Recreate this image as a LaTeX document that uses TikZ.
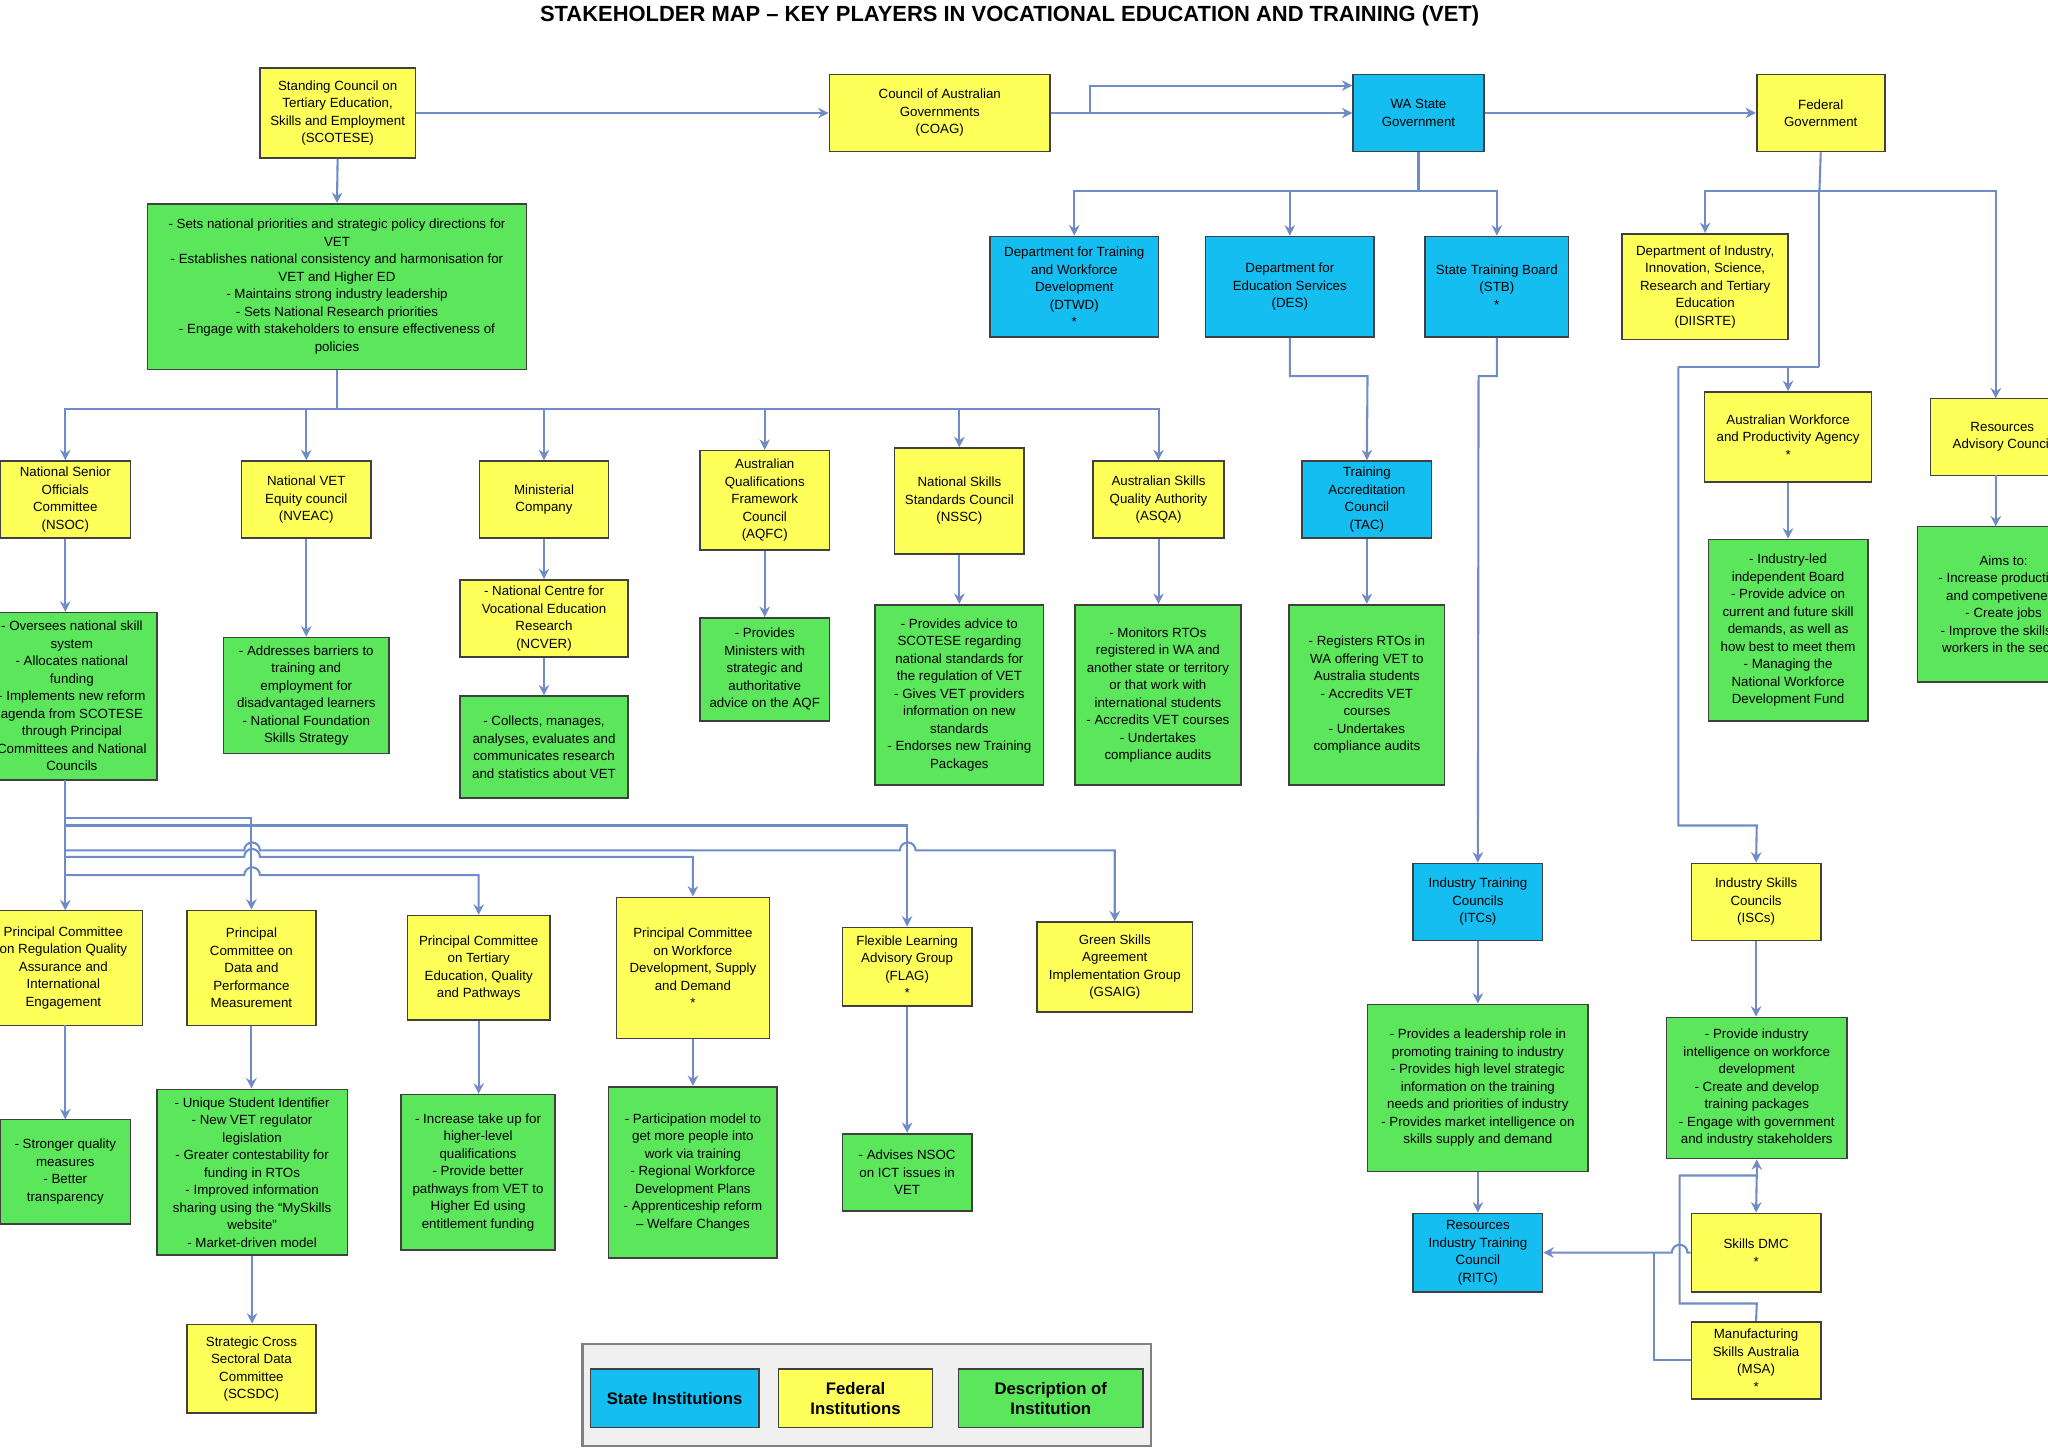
\documentclass[tikz,border=0pt]{standalone}
\usepackage{fontspec}
\setmainfont{Liberation Sans}
\usetikzlibrary{arrows.meta}
\definecolor{yb}{HTML}{FFFF5A}
\definecolor{bb}{HTML}{14BEF0}
\definecolor{gb}{HTML}{5CE65C}
\definecolor{ln}{HTML}{6F8CC8}
\newcommand\fs{\fontsize{5.1}{6.7}\selectfont}
\tikzset{
 bxs/.style={draw=black!75,line width=0.6pt,align=center,inner sep=1pt,font=\fs},
 Y/.style={bxs,fill=yb},B/.style={bxs,fill=bb},G/.style={bxs,fill=gb},
 con/.style={draw=ln,line width=0.8pt,-{Stealth[length=4pt,width=4pt]}},
 lin/.style={draw=ln,line width=0.8pt}
}
\newcommand\bx[7]{%
 \pgfmathsetmacro\bw{(#5-#3)*0.5}\pgfmathsetmacro\bh{(#6-#4)*0.5}%
 \pgfmathsetmacro\cx{(#3+#5)/2}\pgfmathsetmacro\cy{(#4+#6)/2}%
 \node[#2,minimum width=\bw pt,minimum height=\bh pt] (#1) at (\cx,\cy) {#7};}
\begin{document}
\begin{tikzpicture}[x=0.5pt,y=-0.5pt]
\useasboundingbox (0,0) rectangle (1568,1110);
\node[font=\bfseries\fontsize{8.4}{10}\selectfont] (title) at (773,12) {STAKEHOLDER MAP – KEY PLAYERS IN VOCATIONAL EDUCATION AND TRAINING (VET)};
% top
\bx{scotese}{Y}{199}{52}{318}{121}{Standing Council on\\Tertiary Education,\\Skills and Employment\\(SCOTESE)}
\bx{coag}{Y}{635}{57}{804}{116}{Council of Australian\\Governments\\(COAG)}
\bx{wa}{B}{1036}{57}{1136}{116}{WA State\\Government}
\bx{fed}{Y}{1345}{57}{1443}{116}{Federal\\Government}
\bx{scotdesc}{G}{113}{156}{403}{283}{- Sets national priorities and strategic policy directions for\\VET\\- Establishes national consistency and harmonisation for\\VET and Higher ED\\- Maintains strong industry leadership\\- Sets National Research priorities\\- Engage with stakeholders to ensure effectiveness of\\policies}
\bx{dtwd}{B}{758}{181}{887}{258}{Department for Training\\and Workforce\\Development\\(DTWD)\\*}
\bx{des}{B}{923}{181}{1052}{258}{Department for\\Education Services\\(DES)}
\bx{stb}{B}{1091}{181}{1201}{258}{State Training Board\\(STB)\\*}
\bx{diisrte}{Y}{1242}{179}{1369}{260}{Department of Industry,\\Innovation, Science,\\Research and Tertiary\\Education\\(DIISRTE)}
% row 2
\bx{nsoc}{Y}{0}{353}{100}{412}{National Senior\\Officials\\Committee\\(NSOC)}
\bx{nveac}{Y}{185}{353}{284}{412}{National VET\\Equity council\\(NVEAC)}
\bx{mincomp}{Y}{367}{353}{466}{412}{Ministerial\\Company}
\bx{aqfc}{Y}{536}{345}{635}{421}{Australian\\Qualifications\\Framework\\Council\\(AQFC)}
\bx{nssc}{Y}{685}{343}{784}{424}{National Skills\\Standards Council\\(NSSC)}
\bx{asqa}{Y}{837}{353}{937}{412}{Australian Skills\\Quality Authority\\(ASQA)}
\bx{tac}{B}{997}{353}{1096}{412}{Training\\Accreditation\\Council\\(TAC)}
\bx{awpa}{Y}{1305}{300}{1433}{369}{Australian Workforce\\and Productivity Agency\\*}
\bx{rac}{Y}{1478}{305}{1588}{364}{Resources\\Advisory Council}
% row 3
\bx{nsocdesc}{G}{-10}{469}{120}{597}{- Oversees national skill\\system\\- Allocates national\\funding\\- Implements new reform\\agenda from SCOTESE\\through Principal\\Committees and National\\Councils}
\bx{nveacdesc}{G}{171}{488}{298}{577}{- Addresses barriers to\\training and\\employment for\\disadvantaged learners\\- National Foundation\\Skills Strategy}
\bx{ncver}{Y}{352}{444}{481}{503}{- National Centre for\\Vocational Education\\Research\\(NCVER)}
\bx{ncverdesc}{G}{352}{533}{481}{611}{- Collects, manages,\\analyses, evaluates and\\communicates research\\and statistics about VET}
\bx{aqfcdesc}{G}{536}{473}{635}{552}{- Provides\\Ministers with\\strategic and\\authoritative\\advice on the AQF}
\bx{nsscdesc}{G}{670}{463}{799}{601}{- Provides advice to\\SCOTESE regarding\\national standards for\\the regulation of VET\\- Gives VET providers\\information on new\\standards\\- Endorses new Training\\Packages}
\bx{asqadesc}{G}{823}{463}{950}{601}{- Monitors RTOs\\registered in WA and\\another state or territory\\or that work with\\international students\\- Accredits VET courses\\- Undertakes\\compliance audits}
\bx{tacdesc}{G}{987}{463}{1106}{601}{- Registers RTOs in\\WA offering VET to\\Australia students\\- Accredits VET\\courses\\- Undertakes\\compliance audits}
\bx{awpadesc}{G}{1308}{413}{1430}{552}{- Industry-led\\independent Board\\- Provide advice on\\current and future skill\\demands, as well as\\how best to meet them\\- Managing the\\National Workforce\\Development Fund}
\bx{racdesc}{G}{1468}{403}{1600}{522}{Aims to:\\- Increase productivity\\and competiveness\\- Create jobs\\- Improve the skills of\\workers in the sector}
% row 4
\bx{pcreg}{Y}{-12}{697}{109}{785}{Principal Committee\\on Regulation Quality\\Assurance and\\International\\Engagement}
\bx{pcdata}{Y}{143}{697}{242}{785}{Principal\\Committee on\\Data and\\Performance\\Measurement}
\bx{pcter}{Y}{312}{701}{421}{781}{Principal Committee\\on Tertiary\\Education, Quality\\and Pathways}
\bx{pcwf}{Y}{472}{687}{589}{795}{Principal Committee\\on Workforce\\Development, Supply\\and Demand\\*}
\bx{flag}{Y}{645}{710}{744}{770}{Flexible Learning\\Advisory Group\\(FLAG)\\*}
\bx{gsaig}{Y}{794}{706}{913}{775}{Green Skills\\Agreement\\Implementation Group\\(GSAIG)}
\bx{itc}{B}{1082}{661}{1181}{720}{Industry Training\\Councils\\(ITCs)}
\bx{isc}{Y}{1295}{661}{1394}{720}{Industry Skills\\Councils\\(ISCs)}
% row 5
\bx{pcregdesc}{G}{0}{857}{100}{937}{- Stronger quality\\measures\\- Better\\transparency}
\bx{pcdatadesc}{G}{120}{834}{266}{961}{- Unique Student Identifier\\- New VET regulator\\legislation\\- Greater contestability for\\funding in RTOs\\- Improved information\\sharing using the “MySkills\\website”\\- Market-driven model}
\bx{pcterdesc}{G}{307}{838}{425}{957}{- Increase take up for\\higher-level\\qualifications\\- Provide better\\pathways from VET to\\Higher Ed using\\entitlement funding}
\bx{pcwfdesc}{G}{466}{832}{595}{963}{- Participation model to\\get more people into\\work via training\\- Regional Workforce\\Development Plans\\- Apprenticeship reform\\– Welfare Changes}
\bx{flagdesc}{G}{645}{868}{744}{927}{- Advises NSOC\\on ICT issues in\\VET}
\bx{itcdesc}{G}{1047}{769}{1216}{897}{- Provides a leadership role in\\promoting training to industry\\- Provides high level strategic\\information on the training\\needs and priorities of industry\\- Provides market intelligence on\\skills supply and demand}
\bx{iscdesc}{G}{1276}{779}{1414}{887}{- Provide industry\\intelligence on workforce\\development\\- Create and develop\\training packages\\- Engage with government\\and industry stakeholders}
\bx{scsdc}{Y}{143}{1014}{242}{1082}{Strategic Cross\\Sectoral Data\\Committee\\(SCSDC)}
\bx{ritc}{B}{1082}{929}{1181}{989}{Resources\\Industry Training\\Council\\(RITC)}
\bx{sdmc}{Y}{1295}{929}{1394}{989}{Skills DMC\\*}
\bx{msa}{Y}{1295}{1012}{1394}{1071}{Manufacturing\\Skills Australia\\(MSA)\\*}
% legend
\node[draw=black!50,line width=0.8pt,fill=black!6,minimum width=217.5pt,minimum height=39pt] (legend) at (663.5,1068) {};
\tikzset{lg/.style={font=\bfseries\fontsize{6.4}{7.8}\selectfont}}
\bx{lgs}{B,lg}{452}{1048}{581}{1093}{State Institutions}
\bx{lgf}{Y,lg}{596}{1048}{714}{1093}{Federal\\Institutions}
\bx{lgd}{G,lg}{734}{1048}{875}{1093}{Description of\\Institution}
% connectors top
\draw[con] (scotese.east) -- (coag.west);
\draw[con] (coag.east) -- (wa.west);
\draw[con] (coag.east) ++(30,0) |- ([yshift=10.5pt]wa.west);
\draw[con] (wa.east) -- (fed.west);
\draw[con] (scotese.south) -- (scotdesc.north);
\coordinate (wj) at (1086,146);
\draw[lin] (wa.south) -- (wj);
\draw[con] (wj) -| (dtwd.north);
\draw[con] (wj) -| (des.north);
\draw[con] (wj) -| (stb.north);
\coordinate (fj) at (1393,146);
\draw[lin] (fed.south) -- (fj);
\draw[con] (fj) -| (diisrte.north);
\draw[con] (fj) -| (1528,305);
\draw[lin] (fj) -- (1393,281);
\draw[con] (1393,281) -| (awpa.north);
\draw[lin] (1393,281) -- (1285,281);
\draw[con] (1285,281) |- (1345,632) -- (isc.north);
\draw[con] (des.south) |- (1047,288) -- (tac.north);
\draw[con] (stb.south) |- (1132,288) -- (itc.north);
\coordinate (sj) at (258,313);
\draw[lin] (scotdesc.south) -- (sj);
\foreach \n in {nsoc,nveac,mincomp,aqfc,nssc,asqa} \draw[con] (sj) -| (\n.north);
\foreach \a/\b in {nsoc/nsocdesc,nveac/nveacdesc,mincomp/ncver,ncver/ncverdesc,aqfc/aqfcdesc,nssc/nsscdesc,asqa/asqadesc,tac/tacdesc,awpa/awpadesc,itc/itcdesc,itcdesc/ritc,isc/iscdesc,pcdata/pcdatadesc,pcdatadesc/scsdc,pcter/pcterdesc,pcwf/pcwfdesc,flag/flagdesc}
 \draw[con] (\a.south) -- (\a.south |- \b.north);
\draw[con] (1528,364) -- (1528,403);
\draw[con] (50,785) -- (50,857);
% NSOC branches
\draw[con] (50,597) -- (50,697);
\draw[con] (50,626) -| (pcdata.north);
\draw[con] (50,632) -| (flag.north);
\draw[con] (50,651) -- (187,651) arc (180:360:6) -- (689,651) arc (180:360:6) -| (gsaig.north);
\draw[con] (50,656) -- (187,656) arc (180:360:6) -| (pcwf.north);
\draw[con] (50,670) -- (187,670) arc (180:360:6) -| (pcter.north);
% bottom right
\draw[con] (1345,900) -- (iscdesc.south);
\draw[con] (1345,900) -- (sdmc.north);
\draw[lin] (msa.north) -- (1345,998) -| (1286,900) -- (1345,900);
\draw[con] (sdmc.west) -- (1292,959) arc (360:180:6) -- (ritc.east);
\draw[lin] (msa.west) -| (1266,959);
\end{tikzpicture}
\end{document}
